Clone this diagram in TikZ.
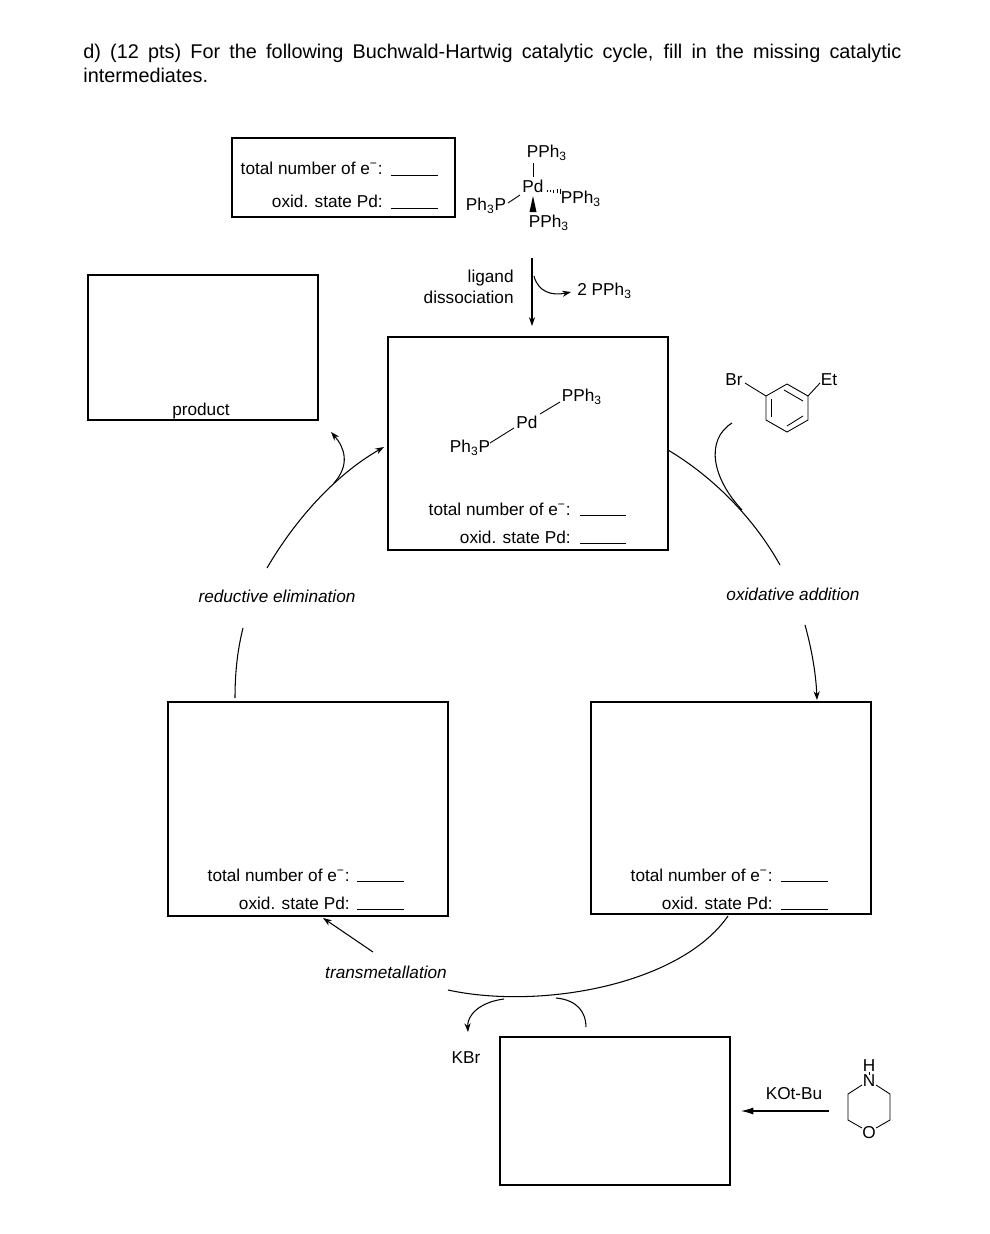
\documentclass[tikz,border=0pt]{standalone}
\usepackage{fontspec}
\setmainfont{Liberation Sans}
\usetikzlibrary{arrows.meta}
\newcommand{\sub}[1]{\textsubscript{#1}}
\newcommand{\elm}{e\textsuperscript{−}}
\tikzset{
  lbl/.style={inner sep=0pt, font=\fontsize{9.8}{12}\selectfont},
  it/.style={lbl, font=\fontsize{9.8}{12}\selectfont\itshape},
  box/.style={draw, line width=0.6pt},
  bond/.style={line width=0.5pt},
  arr/.style={line width=0.6pt, -{Stealth[length=5pt,width=3.5pt]}},
  cyc/.style={line width=0.6pt},
  blank/.style={line width=0.5pt}
}
\begin{document}
\begin{tikzpicture}[x=0.02cm,y=-0.02cm]
\useasboundingbox (0,0) rectangle (990,1234);

% title
\node[lbl, font=\fontsize{11.3}{13.5}\selectfont, anchor=north west, text width=818*0.02cm, align=justify] (title) at (83,44)
  {d) (12 pts) For the following Buchwald-Hartwig catalytic cycle, fill in the missing catalytic \mbox{intermediates.}};

% top left box
\draw[box] (232,138) rectangle (455,217);
\node[lbl, anchor=east] (t1) at (383,168) {total number of \elm:};
\node[lbl, anchor=east] (t2) at (383,201) {oxid. state Pd:};
\draw[blank] (391,175) -- (438,175);
\draw[blank] (391,208) -- (438,208);

% Pd(PPh3)4
\node[lbl] (pd0) at (533,186) {Pd};
\node[lbl] (p0a) at (547,153) {PPh\sub{3}};
\node[lbl] (p0b) at (486,206) {Ph\sub{3}P};
\node[lbl] (p0c) at (581,199) {PPh\sub{3}};
\node[lbl] (p0d) at (549,223) {PPh\sub{3}};
\draw[bond] (533,163) -- (533,177);
\draw[bond] (508,203) -- (520,195);
\foreach \i in {0,...,4}
  \draw[line width=0.4pt] ({547+\i*3.3},{190-\i*0.2}) -- ++(0,{1.8+\i*0.7});
\fill (533,196) -- (529.5,212) -- (536.5,212) -- cycle;

% ligand dissociation
\node[lbl, anchor=east, align=right] (ld) at (514,287) {ligand\\dissociation};
\coordinate (ldtop) at (532,258);
\coordinate (ldbot) at (532,326);
\coordinate (ldbr) at (534,276);
\coordinate (ldend) at (571,292);
\draw[arr] (ldtop) -- (ldbot);
\draw[arr] (ldbr) .. controls (538,292) and (552,296) .. (ldend);
\node[lbl, anchor=west] (pph2) at (577,291) {2 PPh\sub{3}};

% product box
\draw[box] (88,275) rectangle (318,420);
\node[lbl] (prod) at (201,411) {product};

% central box
\draw[box] (388,337) rectangle (668,550);
\node[lbl] (pd1) at (527,422) {Pd};
\node[lbl] (p1a) at (582,397) {PPh\sub{3}};
\node[lbl] (p1b) at (470,448) {Ph\sub{3}P};
\draw[bond] (540,414) -- (560,402);
\draw[bond] (490,443) -- (514,428);
\node[lbl, anchor=east] (c1) at (571,509) {total number of \elm:};
\node[lbl, anchor=east] (c2) at (571,537) {oxid. state Pd:};
\draw[blank] (580,515) -- (626,515);
\draw[blank] (580,543) -- (626,543);

% aryl bromide
\coordinate (r1) at (787,384);
\coordinate (r2) at (808,396);
\coordinate (r3) at (808,420);
\coordinate (r4) at (787,432);
\coordinate (r5) at (766,420);
\coordinate (r6) at (766,396);
\draw[bond] (r1) -- (r2) -- (r3) -- (r4) -- (r5) -- (r6) -- cycle;
\draw[bond] (784,390) -- (803,401);
\draw[bond] (803,416) -- (787,426);
\draw[bond] (771,399) -- (771,417);
\node[lbl] (br) at (734,380) {Br};
\node[lbl] (et) at (829,380) {Et};
\draw[bond] (745,383) -- (r6);
\draw[bond] (r2) -- (820,383);

% oxidative addition
\coordinate (oa1) at (668,450);
\coordinate (oa2) at (780,565);
\draw[cyc] (oa1) .. controls (715,478) and (755,520) .. (oa2);
\draw[cyc] (732,423) .. controls (705,440) and (712,478) .. (742,510);
\node[it] (oa) at (793,594) {oxidative addition};
\coordinate (oa3) at (805,625);
\coordinate (oa4) at (817,700);
\draw[cyc, arr] (oa3) .. controls (812,650) and (816,675) .. (oa4);

% right box
\draw[box] (591,702) rectangle (871,914);
\node[lbl, anchor=east] (rb1) at (773,875) {total number of \elm:};
\node[lbl, anchor=east] (rb2) at (773,903) {oxid. state Pd:};
\draw[blank] (781,881) -- (828,881);
\draw[blank] (781,909) -- (828,909);

% left box
\draw[box] (168,702) rectangle (448,916);
\node[lbl, anchor=east] (lb1) at (350,875) {total number of \elm:};
\node[lbl, anchor=east] (lb2) at (350,903) {oxid. state Pd:};
\draw[blank] (357,881) -- (404,881);
\draw[blank] (357,909) -- (404,909);

% reductive elimination
\node[it] (re) at (277,596) {reductive elimination};
\coordinate (re1) at (235,698);
\coordinate (re2) at (243,628);
\draw[cyc] (re1) .. controls (235,670) and (238,648) .. (re2);
\coordinate (re3) at (267,568);
\coordinate (re4) at (384,447);
\coordinate (re5) at (334,483);
\coordinate (re6) at (331,432);
\draw[cyc, arr] (re3) .. controls (295,520) and (335,475) .. (re4);
\draw[cyc, arr] (re5) .. controls (350,465) and (345,448) .. (re6);

% transmetallation
\node[it] (tm) at (386,972) {transmetallation};
\coordinate (tm1) at (373,952);
\coordinate (tm2) at (323,918);
\draw[cyc, arr] (tm1) -- (tm2);
\coordinate (bt1) at (728,916);
\coordinate (bt2) at (448,990);
\draw[cyc] (bt1) .. controls (680,985) and (540,1010) .. (bt2);
\coordinate (kb1) at (504,999);
\coordinate (kb2) at (468,1032);
\draw[cyc, arr] (kb1) .. controls (480,1002) and (467,1015) .. (kb2);
\coordinate (am1) at (556,998);
\coordinate (am2) at (586,1027);
\draw[cyc] (am1) .. controls (578,1000) and (586,1013) .. (am2);
\node[lbl] (kbr) at (466,1058) {KBr};

% bottom box
\draw[box] (500,1037) rectangle (730,1185);

% KOt-Bu
\node[lbl] (kot) at (794,1094) {KOt-Bu};
\coordinate (kt1) at (829,1111);
\coordinate (kt2) at (741,1111);
\draw[line width=0.6pt, -{Latex[length=7pt,width=4pt]}] (kt1) -- (kt2);

% morpholine
\node[lbl] (mN) at (869,1081) {N};
\node[lbl] (mH) at (869,1066) {H};
\node[lbl] (mO) at (869,1133) {O};
\draw[bond] (mN) -- (mH);
\draw[bond] (876,1085) -- (890,1094) -- (890,1120) -- (876,1128);
\draw[bond] (862,1085) -- (848,1094) -- (848,1120) -- (862,1128);
\end{tikzpicture}
\end{document}
